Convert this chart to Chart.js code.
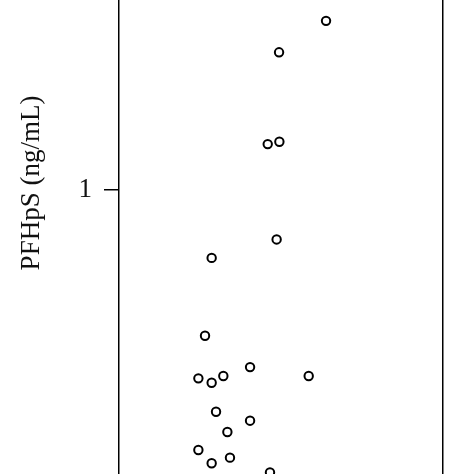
<!DOCTYPE html>
<html>
<head>
<meta charset="utf-8">
<script src="https://cdn.jsdelivr.net/npm/chart.js@4/dist/chart.umd.min.js"></script>
<style>
  html, body { margin: 0; padding: 0; background: #fff; overflow: hidden; }
  #wrap { position: absolute; left: 0; top: -108px; width: 474px; height: 582px; }
  #wrap canvas { display: block; }
</style>
</head>
<body>
<div id="wrap"><canvas id="chart" width="474" height="582"></canvas></div>
<script>
// jitter position of each point inside the strip (-1 .. 1)
const jitterX = [0.278, -0.012, -0.082, -0.010, -0.027, -0.428, -0.469, -0.191, -0.510, -0.428,
                 -0.356, 0.171, -0.401, -0.191, -0.331, -0.510, -0.428, -0.315, -0.068];
// PFHpS concentration, ng/mL
const pfhpsValues = [2.049, 1.793, 1.215, 1.227, 0.811, 0.750, 0.539, 0.472, 0.450, 0.4418,
                     0.4545, 0.4545, 0.3906, 0.3761, 0.3584, 0.3322, 0.3140, 0.3215, 0.3021];
const yTicks = [1];
const yLabel = 'PFHpS (ng/mL)';
// visible part of the log axis (the plot box runs past the picture edges)
const yMin = 0.3;
const yMax = 3.538;

const points = pfhpsValues.map((v, i) => ({ x: jitterX[i], y: v }));

const serif = 'Liberation Serif';

new Chart(document.getElementById('chart'), {
    type: 'scatter',
    data: {
        datasets: [{
            data: points,
            pointStyle: 'circle',
            pointRadius: 4.2,
            pointBorderWidth: 2,
            borderColor: '#000',
            backgroundColor: 'rgba(0,0,0,0)',
            pointHoverRadius: 4.2
        }]
    },
    options: {
        responsive: false,
        animation: false,
        devicePixelRatio: 1,
        layout: { padding: 0, autoPadding: false },
        plugins: { legend: { display: false }, tooltip: { enabled: false } },
        scales: {
            x: { type: 'linear', min: -1, max: 1, display: false },
            y: {
                type: 'logarithmic',
                position: 'left',
                min: yMin,
                max: yMax,
                afterBuildTicks: scale => { scale.ticks = yTicks.map(v => ({ value: v })); },
                afterFit: scale => {
                    scale.width = 119;
                    scale.paddingTop = 0;
                    scale.paddingBottom = 0;
                },
                ticks: {
                    color: '#111',
                    padding: 12,
                    font: { family: serif, size: 27 },
                    callback: v => String(v)
                },
                grid: {
                    drawOnChartArea: false,
                    drawTicks: true,
                    tickLength: 15,
                    color: '#000',
                    lineWidth: 1.5
                },
                border: { display: true, color: '#000', width: 1.5 },
                title: {
                    display: true,
                    text: yLabel,
                    color: '#111',
                    padding: { top: 16, bottom: 0 },
                    font: { family: serif, size: 27 }
                }
            },
            y2: {
                type: 'linear',
                position: 'right',
                min: 0,
                max: 1,
                afterFit: scale => {
                    scale.width = 31;
                    scale.paddingTop = 0;
                    scale.paddingBottom = 0;
                },
                ticks: { display: false },
                grid: { drawOnChartArea: false, drawTicks: false },
                border: { display: true, color: '#000', width: 1.5 }
            }
        }
    }
});
</script>
</body>
</html>
